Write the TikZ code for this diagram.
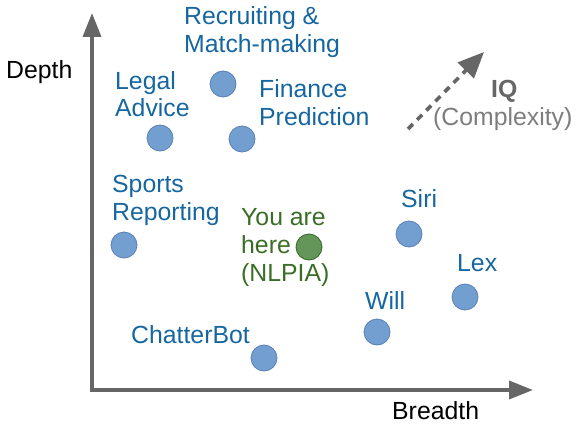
\documentclass[tikz,border=0pt]{standalone}
\usepackage{fontspec}
\setmainfont{Liberation Sans}
\usetikzlibrary{arrows.meta}
\definecolor{lblue}{RGB}{22,102,160}
\definecolor{dotfill}{RGB}{114,159,207}
\definecolor{dotdraw}{RGB}{88,128,184}
\definecolor{gtext}{RGB}{58,110,38}
\definecolor{gfill}{RGB}{100,150,88}
\definecolor{gdraw}{RGB}{52,100,40}
\definecolor{axisgray}{RGB}{102,102,102}
\begin{document}
\begin{tikzpicture}[x=1pt,y=-1pt,
  lab/.style={inner sep=0pt,anchor=base west,align=left,text=lblue,font=\fontsize{24.8}{28}\selectfont},
  axlab/.style={inner sep=0pt,anchor=base west,text=black,font=\fontsize{24.8}{28}\selectfont},
  dot/.style={circle,inner sep=0pt,minimum size=26pt,fill=dotfill,draw=dotdraw,line width=0.8pt},
  gdot/.style={circle,inner sep=0pt,minimum size=26pt,fill=gfill,draw=gdraw,line width=0.8pt},
  axis/.style={draw=axisgray,line width=3.6pt,-{Triangle[length=24pt,width=18pt]}}]
\useasboundingbox (0,0) rectangle (577,425);
% axes
\coordinate (O) at (92,390);
\coordinate (ytip) at (92,13);
\coordinate (xtip) at (533,390);
\draw[axis] (O) -- (ytip);
\draw[axis] ([xshift=-1.8pt]O) -- (xtip);
\node[axlab] (depth) at (6,79) {Depth};
\node[axlab] (breadth) at (392,419) {Breadth};
% IQ arrow
\coordinate (iqs) at (408,129);
\coordinate (iqe) at (484,52);
\draw[draw=axisgray,line width=3.6pt,dash pattern=on 7pt off 6pt,-{Triangle[length=26pt,width=22pt]}] (iqs) -- (iqe);
\node[inner sep=0pt,anchor=base west,text=axisgray,font=\fontsize{24.8}{28}\selectfont\bfseries] (iq) at (491,97) {IQ};
\node[inner sep=0pt,anchor=base west,text=axisgray!85!white,font=\fontsize{24.8}{28}\selectfont] (cx) at (433,125) {(Complexity)};
% labels (anchor at baseline of last line)
\node[lab] (lrec) at (184,53) {Recruiting \&\\Match-making};
\node[lab] (lleg) at (115,117) {Legal\\Advice};
\node[lab] (lfin) at (259,125) {Finance\\Prediction};
\node[lab] (lspo) at (112,220) {Sports\\Reporting};
\node[lab,text=gtext] (lyou) at (241,281) {You are\\here\\(NLPIA)};
\node[lab] (lsiri) at (401,207) {Siri};
\node[lab] (llex) at (457,271) {Lex};
\node[lab] (lwill) at (365,309) {Will};
\node[lab] (lchat) at (131,343) {ChatterBot};
% dots
\node[dot] (drec) at (223,84) {};
\node[dot] (dleg) at (160,138) {};
\node[dot] (dfin) at (242,139) {};
\node[dot] (dspo) at (124,245) {};
\node[gdot] (dyou) at (309,247) {};
\node[dot] (dsiri) at (409,234) {};
\node[dot] (dlex) at (465,297) {};
\node[dot] (dwill) at (377,332) {};
\node[dot] (dchat) at (264,358) {};
\end{tikzpicture}
\end{document}
